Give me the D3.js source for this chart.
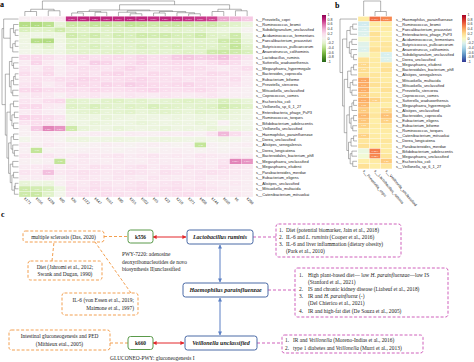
<!DOCTYPE html>
<html>
<head>
<meta charset="utf-8">
<script src="https://cdn.jsdelivr.net/npm/d3@7"></script>
<style>
  body { margin: 0; background: #fff; }
  svg { display: block; }
</style>
</head>
<body>
<svg id="chart" width="474" height="362"></svg>
<script>
// ---- panel a : species x KO / pathway correlations ----
const rowsA = ['Prevotella_copri', 'Ruminococcus_bromii', 'Subdoligranulum_unclassified', 'Acidaminococcus_fermentans',
  'Faecalibacterium_prausnitzii', 'Butyricicoccus_pullicaecorum', 'Anaerotruncus_colihominis', 'Lactobacillus_ruminis',
  'Sutterella_wadsworthensis', 'Megasphaera_hypermegale', 'Bacteroides_coprocola', 'Eubacterium_biforme',
  'Prevotella_stercorea', 'Mitsuokella_unclassified', 'Coprococcus_comes', 'Escherichia_coli', 'Veillonella_sp_6_1_27',
  'Enterobacteria_phage_PsP3', 'Ruminococcus_torques', 'Bifidobacterium_adolescentis', 'Veillonella_unclassified',
  'Haemophilus_parainfluenzae', 'Dorea_unclassified', 'Alistipes_senegalensis', 'Dorea_longicatena',
  'Bacteroidales_bacterium_ph8', 'Megasphaera_unclassified', 'Megasphaera_elsdenii', 'Parabacteroides_merdae',
  'Eubacterium_eligens', 'Alistipes_unclassified', 'Mitsuokella_multacida', 'Catenibacterium_mitsuokai'];
const colsA = ['k171', 'k556', 'k239', 'k80', 'k36', 'k122', 'k447', 'k561', 'k90', 'k315',
  'k502', 'k65', 'k23', 'k210', 'k371', 'k408', 'k144', 'k660', 'k6', 'k298'];
const valuesA = [
  [0.05, 0.08, 0.1, 0.12, 0.78, 0.8, 0.82, 0.8, 0.79, 0.81, 0.8, 0.78, 0.8, 0.79, 0.77, 0.75, 0.72, 0.45, 0.4, 0.3],
  [-0.4, -0.42, -0.38, -0.15, -0.32, -0.3, -0.35, -0.33, -0.3, -0.36, -0.34, -0.3, -0.32, -0.33, -0.3, -0.28, -0.3, -0.25, -0.2, -0.12],
  [-0.25, -0.2, -0.22, -0.3, -0.22, -0.2, -0.18, -0.2, -0.22, -0.2, -0.18, -0.2, -0.17, -0.2, -0.18, -0.2, -0.15, -0.12, -0.1, 0.02],
  [-0.1, -0.08, -0.12, -0.1, -0.3, -0.25, -0.3, -0.22, -0.28, -0.25, -0.3, -0.28, -0.3, -0.26, -0.25, -0.3, -0.22, -0.2, -0.3, -0.1],
  [-0.1, -0.4, -0.42, -0.1, -0.2, -0.22, -0.2, -0.18, -0.2, -0.22, -0.2, -0.18, -0.2, -0.2, -0.22, -0.2, -0.2, -0.3, -0.32, -0.15],
  [-0.08, -0.12, -0.2, -0.05, -0.22, -0.2, -0.25, -0.2, -0.22, -0.2, -0.24, -0.2, -0.22, -0.25, -0.2, -0.22, -0.2, -0.25, -0.35, -0.2],
  [-0.05, -0.1, -0.12, -0.08, -0.18, -0.2, -0.18, -0.2, -0.22, -0.18, -0.2, -0.2, -0.18, -0.2, -0.22, -0.2, -0.3, -0.32, -0.3, -0.25],
  [0.2, 0.22, 0.18, 0.12, 0.2, 0.22, 0.18, 0.2, 0.22, 0.2, 0.25, 0.2, 0.22, 0.3, 0.32, 0.28, 0.3, 0.35, 0.25, 0.15],
  [0.1, 0.25, 0.12, 0.05, 0.22, 0.15, 0.28, 0.25, 0.15, 0.2, 0.25, 0.18, 0.2, 0.22, 0.2, 0.15, 0.2, 0.25, 0.2, 0.1],
  [0.15, 0.1, 0.2, 0.1, 0.15, 0.2, 0.18, 0.15, 0.2, 0.25, 0.2, 0.15, 0.18, 0.2, 0.22, 0.2, 0.15, 0.1, 0.15, 0.2],
  [0.2, 0.15, 0.22, 0.1, 0.18, 0.2, 0.15, 0.22, 0.25, 0.2, 0.18, 0.22, 0.2, 0.15, 0.2, 0.18, 0.22, 0.2, 0.15, 0.12],
  [0.12, 0.18, 0.15, 0.2, 0.2, 0.25, 0.22, 0.18, 0.2, 0.22, 0.25, 0.2, 0.18, 0.2, 0.15, 0.2, 0.18, 0.15, 0.2, 0.1],
  [0.15, 0.2, 0.1, 0.15, 0.25, 0.22, 0.2, 0.25, 0.22, 0.28, 0.25, 0.22, 0.2, 0.22, 0.25, 0.2, 0.2, 0.18, 0.15, 0.1],
  [0.22, 0.25, 0.2, 0.18, 0.2, 0.18, 0.22, 0.2, 0.18, 0.2, 0.22, 0.25, 0.2, 0.18, 0.2, 0.22, 0.18, 0.12, 0.1, 0.05],
  [0.1, 0.15, 0.12, 0.05, 0.15, 0.12, 0.15, 0.1, 0.12, 0.15, 0.12, 0.1, 0.15, 0.12, 0.1, 0.12, 0.15, 0.1, 0.08, 0.05],
  [0.15, 0.12, 0.2, 0.22, -0.2, -0.18, -0.15, -0.2, -0.22, -0.18, -0.2, -0.15, -0.18, -0.2, -0.22, -0.2, -0.18, -0.25, -0.2, -0.15],
  [0.2, 0.22, 0.12, 0.1, -0.22, -0.2, -0.25, -0.2, -0.18, -0.22, -0.2, -0.25, -0.22, -0.2, -0.18, -0.2, -0.22, -0.3, -0.25, -0.2],
  [0.1, 0.15, 0.1, 0.05, -0.15, -0.18, -0.2, -0.15, -0.18, -0.2, -0.15, -0.18, -0.2, -0.18, -0.15, -0.2, -0.18, -0.2, -0.15, -0.1],
  [0.25, 0.22, 0.2, 0.15, -0.1, -0.12, -0.1, -0.15, -0.12, -0.1, -0.12, -0.1, -0.08, -0.12, -0.1, -0.12, -0.1, -0.15, -0.12, -0.08],
  [0.15, 0.2, 0.18, 0.1, -0.12, -0.1, -0.15, -0.12, -0.1, -0.12, -0.15, -0.12, -0.1, -0.12, -0.1, -0.15, -0.12, 0.05, -0.1, -0.05],
  [0.05, 0.3, 0.55, 0.5, -0.3, -0.15, -0.12, -0.1, -0.15, -0.12, -0.1, -0.12, -0.15, -0.1, -0.12, -0.1, -0.15, -0.1, -0.12, -0.08],
  [0.05, 0.08, 0.1, 0.05, 0.08, 0.05, 0.1, 0.08, 0.05, 0.1, 0.08, 0.05, 0.1, 0.08, 0.1, 0.05, 0.15, 0.38, 0.2, 0.1],
  [-0.05, 0.05, 0.08, 0.02, -0.1, -0.12, -0.08, -0.1, -0.12, -0.1, -0.08, -0.1, -0.12, -0.1, -0.08, -0.1, -0.05, -0.08, -0.05, 0.02],
  [0.1, 0.05, 0.12, 0.08, 0.05, 0.02, 0.05, 0.08, 0.05, 0.02, 0.05, 0.08, 0.05, 0.02, 0.05, -0.35, 0.05, 0.02, 0.05, 0.08],
  [0.05, -0.35, 0.02, 0.05, 0.02, 0.05, 0.08, 0.05, 0.02, 0.05, 0.08, 0.02, 0.05, 0.08, 0.05, 0.02, 0.05, 0.02, 0.05, 0.02],
  [0.12, 0.1, 0.15, 0.1, 0.12, 0.15, 0.1, 0.12, 0.15, 0.1, 0.12, 0.15, 0.1, 0.12, 0.1, 0.15, 0.12, 0.1, 0.15, 0.1],
  [0.05, 0.02, 0.05, -0.35, 0.1, 0.12, 0.1, 0.08, 0.12, 0.1, 0.08, 0.12, 0.1, 0.08, 0.1, 0.12, 0.1, 0.15, 0.55, 0.5],
  [0.1, 0.12, 0.15, 0.1, 0.15, 0.12, 0.18, 0.15, 0.12, 0.15, 0.18, 0.12, 0.15, 0.12, 0.18, 0.15, 0.12, 0.2, 0.15, 0.12],
  [0.15, 0.12, 0.35, 0.12, 0.15, 0.18, 0.15, 0.12, 0.15, 0.18, 0.15, 0.12, 0.18, 0.15, 0.12, 0.15, 0.18, 0.15, 0.12, 0.1],
  [0.08, 0.1, 0.12, 0.05, 0.12, 0.15, 0.12, 0.1, 0.15, 0.12, 0.1, 0.15, 0.12, 0.1, 0.12, 0.15, 0.1, 0.12, 0.1, 0.08],
  [-0.15, -0.1, -0.12, 0.05, 0.15, 0.12, 0.18, 0.15, 0.12, 0.15, 0.18, 0.12, 0.15, 0.18, 0.12, 0.15, 0.12, 0.1, 0.12, 0.08],
  [-0.3, -0.28, -0.25, -0.1, 0.18, 0.15, 0.2, 0.18, 0.15, 0.18, 0.2, 0.15, 0.18, 0.2, 0.15, 0.18, 0.15, 0.12, 0.1, 0.08],
  [-0.3, -0.32, -0.2, -0.05, 0.15, 0.18, 0.15, 0.2, 0.18, 0.15, 0.18, 0.2, 0.15, 0.18, 0.2, 0.15, 0.12, 0.1, 0.12, 0.08]
];
// dendrograms: [mergeHeight, left, right], leaves are indexes
const rowTreeA = [1.0,
  [0.9, 0, [0.5, [0.3, 1, [0.2, 2, 3]], [0.35, [0.2, 4, 5], 6]]],
  [0.8,
    [0.55, [0.4, 7, [0.3, 8, 9]], [0.45, [0.3, [0.2, 10, 11], 12], [0.35, 13, 14]]],
    [0.7, [0.5, [0.3, 15, 16], [0.4, [0.25, 17, 18], [0.3, 19, 20]]],
      [0.6, [0.45, [0.3, 21, 22], [0.35, 23, [0.25, 24, 25]]], [0.5, [0.35, 26, 27], [0.4, [0.3, 28, 29], [0.25, [0.2, 30, 31], 32]]]]]]];
const colTreeA = [1.0, [0.45, [0.3, 0, 1], [0.35, 2, 3]],
  [0.75, [0.4, [0.3, [0.2, 4, 5], [0.25, 6, 7]], [0.35, [0.25, 8, [0.15, 9, 10]], [0.3, [0.2, 11, 12], [0.22, 13, [0.15, 14, 15]]]]],
    [0.45, [0.3, 16, 17], [0.35, 18, 19]]]];

// ---- panel b : species x three hub species ----
const rowsB = ['Haemophilus_parainfluenzae', 'Ruminococcus_bromii', 'Faecalibacterium_prausnitzii', 'Enterobacteria_phage_PsP3',
  'Acidaminococcus_fermentans', 'Butyricicoccus_pullicaecorum', 'Anaerotruncus_colihominis', 'Subdoligranulum_unclassified',
  'Dorea_unclassified', 'Megasphaera_elsdenii', 'Bacteroidales_bacterium_ph8', 'Alistipes_senegalensis',
  'Mitsuokella_multacida', 'Mitsuokella_unclassified', 'Prevotella_stercorea', 'Coprococcus_comes',
  'Sutterella_wadsworthensis', 'Megasphaera_hypermegale', 'Alistipes_unclassified', 'Bacteroides_coprocola',
  'Eubacterium_eligens', 'Eubacterium_biforme', 'Ruminococcus_torques', 'Catenibacterium_mitsuokai',
  'Dorea_longicatena', 'Parabacteroides_merdae', 'Bifidobacterium_adolescentis', 'Megasphaera_unclassified',
  'Escherichia_coli', 'Veillonella_sp_6_1_27'];
const colsB = ['Prevotella_copri', 'Lactobacillus_ruminis', 'Veillonella_unclassified'];
const valuesB = [
  [0.12, 0.6, 0.52], [-0.25, 0.12, 0.1], [-0.22, 0.1, 0.12], [-0.2, 0.18, 0.08], [-0.05, 0.15, 0.1],
  [-0.18, 0.12, 0.15], [-0.2, 0.18, 0.15], [-0.1, 0.1, -0.22], [0.18, 0.12, -0.2], [0.22, 0.12, 0.15],
  [0.2, 0.1, 0.18], [0.18, 0.15, 0.12], [0.42, 0.15, 0.12], [0.4, 0.18, 0.15], [0.4, 0.12, 0.18],
  [0.32, 0.15, 0.12], [0.4, 0.25, 0.15], [0.35, 0.12, 0.1], [0.28, 0.12, 0.22], [0.35, 0.15, 0.32],
  [0.3, 0.1, 0.25], [0.25, 0.12, 0.15], [0.15, 0.1, 0.12], [0.25, 0.12, 0.1], [0.15, 0.12, 0.15],
  [0.18, 0.1, 0.12], [-0.12, 0.55, 0.12], [-0.08, 0.52, 0.15], [0.1, 0.12, 0.28], [0.18, 0.1, 0.15]
];
const rowTreeB = [1.0, 0,
  [0.85, [0.6, [0.4, [0.25, 1, 2], 3], [0.45, [0.3, 4, 5], [0.35, 6, [0.2, 7, 8]]]],
    [0.75, [0.55, [0.35, [0.2, 9, 10], 11], [0.4, [0.25, 12, 13], [0.3, 14, 15]]],
      [0.6, [0.45, [0.3, [0.2, 16, 17], 18], [0.35, [0.2, 19, 20], [0.25, 21, 22]]],
        [0.5, [0.35, [0.2, 23, 24], 25], [0.4, [0.3, 26, 27], [0.25, 28, 29]]]]]]];
const colTreeB = [1.0, 0, [0.3, 1, 2]];

const legendTicks = [1, 0.8, 0.6, 0.4, 0.2, 0, -0.2, -0.4, -0.6, -0.8, -1];

// ---- panel c : network ----
const hubTaxa = ['Lactobacillus ruminis', 'Haemophilus parainfluenzae', 'Veillonella unclassified'];
const koNodes = ['k556', 'k660'];
const pathwayNotes = [
  ['PWY-7220: adenosine', 'deoxyribonucleotides de novo', 'biosynthesis II|unclassified'],
  ['GLUCONEO-PWY: gluconeogenesis I']
];
const diseaseNotes = [
  ['multiple sclerosis (Das, 2020)'],
  ['Diet (Jahromi et al., 2012;', 'Swank and Dugan, 1990)'],
  ['IL-6  (von Essen et al., 2019;', 'Maimone et al., 1997)'],
  ['Intestinal gluconeogenesis and PED', '(Mithieux etal., 2005)']
];
const evidenceNotes = [
  [['1.', 'Diet (potential biomarker, Jain et al., 2018)'],
   ['2.', 'IL-6 and *L. ruminis* (Cooper et al., 2016)'],
   ['3.', 'IL-6 and liver inflammation (dietary obesity)'],
   ['', '(Park et al., 2010)']],
  [['1.', 'High plant-based diet\u2014 low *H. parainfluenzae*\u2014low IS'],
   ['', '(Stanford et al., 2021)'],
   ['2.', 'IS and  chronic kidney disease (Liabeuf et al., 2018)'],
   ['3.', 'IR and *H. parainfluenz* (-)'],
   ['', '(Del Chierico et al., 2021)'],
   ['4.', 'IR and high-fat diet (De Souza et al., 2005)']],
  [['1.', 'IR and *Veillonella* (Moreno-Indias et al., 2016)'],
   ['2.', 'type 1 diabetes and *Veillonella* (Murri et al., 2013)']]
];

// ------------------------------------------------------------------
const svg = d3.select('#chart');
svg.append('rect').attr('width', 474).attr('height', 362).attr('fill', '#fff');
const sans = "'Liberation Sans', Arial, sans-serif";
const serif = "'Liberation Serif', 'Times New Roman', serif";

const colorA = v => d3.interpolatePiYG((1 - v) / 2);
const colorB = v => d3.interpolateRdYlBu((1 - v) / 2);

// dendrogram helper
function drawDendro(g, tree, band, hScale, vertical) {
    const root = d3.hierarchy(tree, d => Array.isArray(d) ? d.slice(1) : null);
    root.eachAfter(n => {
        if (n.children) {
            n.p = (n.children[0].p + n.children[n.children.length - 1].p) / 2;
            n.h = n.data[0];
        } else {
            n.p = band(n.data) + band.bandwidth() / 2;
            n.h = 0;
        }
    });
    const pt = vertical ? (p, h) => [p, hScale(h)] : (p, h) => [hScale(h), p];
    const links = [];
    root.each(n => {
        if (!n.children) return;
        const a = n.children[0], b = n.children[n.children.length - 1];
        links.push([pt(a.p, a.h), pt(a.p, n.h), pt(b.p, n.h), pt(b.p, b.h)]);
    });
    g.selectAll('path').data(links).join('path')
        .attr('d', d3.line())
        .attr('fill', 'none')
        .attr('stroke', '#666')
        .attr('stroke-width', 0.5);
}

function heatmap(g, values, x, y, color, fontSize, minLabel) {
    const cells = values.flatMap((row, i) => row.map((v, j) => ({ i, j, v })));
    g.selectAll('rect.cell').data(cells).join('rect')
        .attr('class', 'cell')
        .attr('x', d => x(d.j))
        .attr('y', d => y(d.i))
        .attr('width', x.bandwidth())
        .attr('height', y.bandwidth())
        .attr('fill', d => color(d.v))
        .attr('stroke', '#fff')
        .attr('stroke-width', 0.25);
    g.selectAll('text.val').data(cells.filter(d => Math.abs(d.v) >= minLabel)).join('text')
        .attr('class', 'val')
        .attr('x', d => x(d.j) + x.bandwidth() / 2)
        .attr('y', d => y(d.i) + y.bandwidth() / 2)
        .attr('text-anchor', 'middle')
        .attr('dominant-baseline', 'central')
        .attr('font-family', sans)
        .attr('font-size', fontSize)
        .attr('fill', '#fff')
        .attr('fill-opacity', 0.9)
        .text(d => d.v.toFixed(2) + (Math.abs(d.v) >= 0.45 ? '**' : ''));
}

function legend(id, x0, color) {
    const ly = d3.scaleLinear().domain([1, -1]).range([15, 62]);
    const grad = svg.append('defs').append('linearGradient')
        .attr('id', id).attr('x1', 0).attr('x2', 0).attr('y1', 0).attr('y2', 1);
    d3.range(0, 1.001, 0.1).forEach(t => {
        grad.append('stop').attr('offset', t).attr('stop-color', color(1 - 2 * t));
    });
    svg.append('rect').attr('x', x0).attr('y', ly(1)).attr('width', 4).attr('height', ly(-1) - ly(1))
        .attr('fill', `url(#${id})`);
    svg.append('g').selectAll('text').data(legendTicks).join('text')
        .attr('x', x0 + 5.5)
        .attr('y', d => ly(d))
        .attr('dominant-baseline', 'central')
        .attr('font-family', sans)
        .attr('font-size', 3.6)
        .attr('fill', '#333')
        .text(d => d);
}

// ---------------- panel a ----------------
const xA = d3.scaleBand().domain(d3.range(colsA.length)).range([19, 253]);
const yA = d3.scaleBand().domain(d3.range(rowsA.length)).range([16.3, 197]);
const gA = svg.append('g');
heatmap(gA, valuesA, xA, yA, colorA, 2.3, 0);
drawDendro(svg.append('g'), rowTreeA, yA, d3.scaleLinear().domain([0, 1]).range([18.5, 2]), false);
drawDendro(svg.append('g'), colTreeA, xA, d3.scaleLinear().domain([0, 1]).range([16, 1]), true);

svg.append('g').selectAll('text').data(rowsA).join('text')
    .attr('x', 256)
    .attr('y', (d, i) => yA(i) + yA.bandwidth() / 2)
    .attr('dominant-baseline', 'central')
    .attr('font-family', sans)
    .attr('font-size', 3.9)
    .attr('fill', '#222')
    .text(d => 's__' + d);

svg.append('g').selectAll('text').data(colsA).join('text')
    .attr('transform', (d, i) => `translate(${xA(i) + xA.bandwidth() / 2 - 1},${199}) rotate(45)`)
    .attr('font-family', sans)
    .attr('font-size', 3.8)
    .attr('fill', '#333')
    .text(d => d);

legend('gradA', 322, colorA);

// ---------------- panel b ----------------
const xB = d3.scaleBand().domain(d3.range(colsB.length)).range([358, 392]);
const yB = d3.scaleBand().domain(d3.range(rowsB.length)).range([16.5, 168.9]);
const gB = svg.append('g');
heatmap(gB, valuesB, xB, yB, colorB, 2.5, 0.2);
drawDendro(svg.append('g'), rowTreeB, yB, d3.scaleLinear().domain([0, 1]).range([357, 340]), false);
drawDendro(svg.append('g'), colTreeB, xB, d3.scaleLinear().domain([0, 1]).range([16, 1]), true);

svg.append('g').selectAll('text').data(rowsB).join('text')
    .attr('x', 396)
    .attr('y', (d, i) => yB(i) + yB.bandwidth() / 2)
    .attr('dominant-baseline', 'central')
    .attr('font-family', sans)
    .attr('font-size', 3.9)
    .attr('fill', '#222')
    .text(d => 's__' + d);

svg.append('g').selectAll('text').data(colsB).join('text')
    .attr('transform', (d, i) => `translate(${xB(i) + xB.bandwidth() / 2 - 1},${171}) rotate(50)`)
    .attr('font-family', sans)
    .attr('font-size', 3.9)
    .attr('fill', '#222')
    .text(d => 's__' + d);

legend('gradB', 462, colorB);

// panel letters
[['a', 0, 7], ['b', 335, 8], ['c', 1, 217]].forEach(([t, x, y]) => {
    svg.append('text').attr('x', x).attr('y', y)
        .attr('font-family', serif).attr('font-weight', 'bold').attr('font-size', 8)
        .text(t);
});

// ---------------- panel c ----------------
const defs = svg.append('defs');
function marker(id, color) {
    defs.append('marker').attr('id', id)
        .attr('viewBox', '0 0 10 10').attr('refX', 9).attr('refY', 5)
        .attr('markerWidth', 4).attr('markerHeight', 4)
        .attr('orient', 'auto-start-reverse')
        .append('path').attr('d', 'M0,0L10,5L0,10Z').attr('fill', color);
}
marker('arRed', '#e3262b');
marker('arBlue', '#5a7fc4');

const orange = '#f0943c', pink = '#c94fb3', blue = '#4a6aa6', green = '#5a9a4a';
const gC = svg.append('g');

function richText(sel, str) {
    str.split('*').forEach((part, i) => {
        if (part) sel.append('tspan').attr('font-style', i % 2 ? 'italic' : null).text(part);
    });
}
function line(x1, y1, x2, y2, color, dashed, mk) {
    const l = gC.append('line').attr('x1', x1).attr('y1', y1).attr('x2', x2).attr('y2', y2)
        .attr('stroke', color).attr('stroke-width', dashed ? 0.9 : 1);
    if (dashed) l.attr('stroke-dasharray', '3,2');
    if (mk) l.attr('marker-start', `url(#${mk})`).attr('marker-end', `url(#${mk})`);
}
function box(b, color, dashed, width) {
    const r = gC.append('rect').attr('x', b.x).attr('y', b.y).attr('width', b.w).attr('height', b.h)
        .attr('rx', 2.5).attr('fill', '#fff').attr('stroke', color).attr('stroke-width', width);
    if (dashed) r.attr('stroke-dasharray', '3,1.8');
}

// connectors first so boxes sit on top
line(104, 236.5, 128, 236.5, orange, true);
line(52, 261, 54, 242, orange, true);
line(131, 293, 95, 242, orange, true);
line(110, 343, 128, 343, orange, true);
line(253, 237, 276, 237, pink, true);
line(268, 290, 295, 290, pink, true);
line(257, 343, 282, 343, pink, true);
line(153, 237, 186, 237, '#e3262b', false, 'arRed');
line(153, 343, 184, 343, '#e3262b', false, 'arRed');
line(220, 245, 220, 282, '#5a7fc4', false, 'arBlue');
line(220, 298, 220, 335, '#5a7fc4', false, 'arBlue');

// disease / diet notes (orange)
const diseaseBoxes = [
    { x: 23, y: 231, w: 81, h: 11, tx: 63.5, anchor: 'middle' },
    { x: 28, y: 261, w: 74, h: 19, tx: 65, anchor: 'middle' },
    { x: 62, y: 293, w: 76, h: 22, tx: 134, anchor: 'end' },
    { x: 9, y: 330, w: 101, h: 20, tx: 59.5, anchor: 'middle' }
];
diseaseNotes.forEach((lines, k) => {
    const b = diseaseBoxes[k];
    box(b, orange, true, 0.9);
    const top = b.y + b.h / 2 - (lines.length - 1) * 3.8;
    lines.forEach((t, i) => {
        gC.append('text').attr('x', b.tx).attr('y', top + i * 7.6)
            .attr('dominant-baseline', 'central').attr('text-anchor', b.anchor)
            .attr('font-family', serif).attr('font-size', 5.4).attr('fill', '#222').text(t);
    });
});

// KO nodes (green)
const koBoxes = [{ x: 128, y: 230, w: 25, h: 13 }, { x: 128, y: 336.5, w: 25, h: 13 }];
koNodes.forEach((t, k) => {
    const b = koBoxes[k];
    box(b, green, false, 1);
    gC.append('text').attr('x', b.x + b.w / 2).attr('y', b.y + b.h / 2)
        .attr('text-anchor', 'middle').attr('dominant-baseline', 'central')
        .attr('font-family', serif).attr('font-weight', 'bold').attr('font-size', 5.4).attr('fill', '#222').text(t);
});

// pathway captions
const pathPos = [{ x: 122, y: 254 }, { x: 110, y: 358 }];
pathwayNotes.forEach((lines, k) => {
    lines.forEach((t, i) => {
        gC.append('text').attr('x', pathPos[k].x).attr('y', pathPos[k].y + i * 7.5)
            .attr('dominant-baseline', 'central')
            .attr('font-family', serif).attr('font-size', 5.4).attr('fill', '#222').text(t);
    });
});

// hub taxa (blue)
const hubBoxes = [{ x: 187, y: 230, w: 66, h: 14 }, { x: 183, y: 283, w: 85, h: 14 }, { x: 185, y: 336, w: 72, h: 14 }];
hubTaxa.forEach((t, k) => {
    const b = hubBoxes[k];
    box(b, blue, false, 1);
    gC.append('text').attr('x', b.x + b.w / 2).attr('y', b.y + b.h / 2)
        .attr('text-anchor', 'middle').attr('dominant-baseline', 'central')
        .attr('font-family', serif).attr('font-weight', 'bold').attr('font-style', 'italic')
        .attr('font-size', 6).attr('fill', '#1a1a1a').text(t);
});

// literature evidence (pink)
const evidenceBoxes = [
    { x: 276, y: 224, w: 125, h: 33, nx: 279, tx: 286 },
    { x: 295, y: 268, w: 153, h: 49, nx: 299, tx: 308 },
    { x: 282, y: 335, w: 141, h: 18, nx: 285, tx: 293 }
];
evidenceNotes.forEach((lines, k) => {
    const b = evidenceBoxes[k];
    box(b, pink, true, 0.9);
    const top = b.y + b.h / 2 - (lines.length - 1) * 3.6;
    lines.forEach(([num, t], i) => {
        const yy = top + i * 7.2;
        if (num) {
            gC.append('text').attr('x', b.nx).attr('y', yy).attr('dominant-baseline', 'central')
                .attr('font-family', serif).attr('font-size', 5.4).attr('fill', '#222').text(num);
        }
        const tx = gC.append('text').attr('x', b.tx).attr('y', yy).attr('dominant-baseline', 'central')
            .attr('font-family', serif).attr('font-size', 5.4).attr('fill', '#222');
        richText(tx, t);
    });
});
</script>
</body>
</html>
